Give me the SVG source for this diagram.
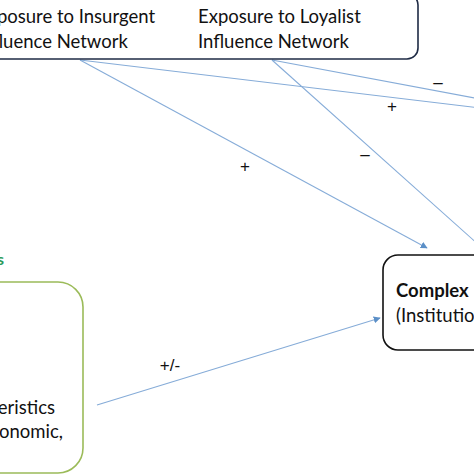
<svg xmlns="http://www.w3.org/2000/svg" width="474" height="474" viewBox="0 0 474 474">
<defs>
<style>
.t{font-family:Lato,"Open Sans","Liberation Sans",sans-serif;font-size:18.5px;fill:#111}
.lbl{font-family:"Liberation Sans",sans-serif;font-size:17px;fill:#111}
.c{stroke:#86acd8;stroke-width:1.1;fill:none}
</style>
<marker id="ah" viewBox="0 0 10 10" refX="9" refY="5" markerWidth="7" markerHeight="7" markerUnits="userSpaceOnUse" orient="auto">
<path d="M0,0 L10,5 L0,10 z" fill="#5b8fc7"/>
</marker>
</defs>
<rect width="474" height="474" fill="#fff"/>
<g id="connectors">
<line class="c" x1="80" y1="60" x2="427" y2="248" marker-end="url(#ah)"/>
<line class="c" x1="80" y1="60" x2="480" y2="108"/>
<line class="c" x1="272" y1="60" x2="480" y2="99"/>
<line class="c" x1="272" y1="60" x2="480" y2="246"/>
<line class="c" x1="97" y1="405" x2="380" y2="318" marker-end="url(#ah)"/>
<text class="lbl" x="438" y="88" text-anchor="middle">–</text>
<text class="lbl" x="392" y="112" text-anchor="middle">+</text>
<text class="lbl" x="365" y="160" text-anchor="middle">–</text>
<text class="lbl" x="245" y="172" text-anchor="middle">+</text>
<text class="lbl" x="170" y="371" text-anchor="middle">+/-</text>
</g>
<g id="exposure-networks">
<rect x="-300" y="-6" width="718" height="65" rx="11" fill="#fff" stroke="#1f2b45" stroke-width="1.6"/>
<text class="t" x="-23" y="23">Exposure to Insurgent</text>
<text class="t" x="-23" y="48">Influence Network</text>
<text class="t" x="198" y="23">Exposure to Loyalist</text>
<text class="t" x="198" y="48">Influence Network</text>
</g>
<g id="complex">
<rect x="383" y="255" width="200" height="95" rx="15" fill="#fff" stroke="#111" stroke-width="1.6"/>
<text class="t" x="396" y="297" font-weight="bold">Complex</text>
<text class="t" x="396" y="322">(Institutio</text>
</g>
<g id="controls">
<text x="4" y="265" text-anchor="end" font-family="Lato,'Liberation Sans',sans-serif" font-size="16" font-weight="bold" fill="#2e9b5a">s</text>
<rect x="-200" y="282" width="283" height="191" rx="25" fill="#fff" stroke="#9bbb59" stroke-width="1.6"/>
<text class="t" x="55" y="414" text-anchor="end">eristics</text>
<text class="t" x="63" y="438" text-anchor="end">onomic,</text>
</g>
</svg>
